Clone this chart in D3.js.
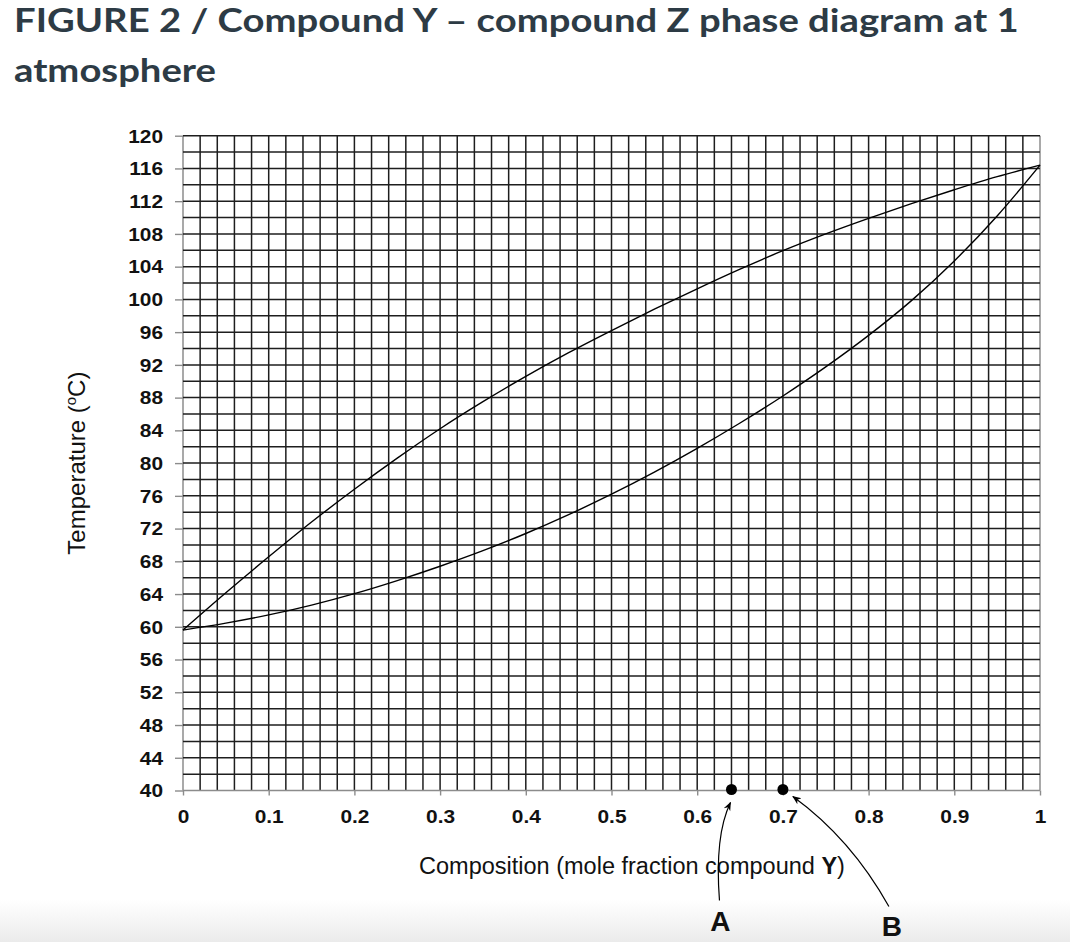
<!DOCTYPE html>
<html>
<head>
<meta charset="utf-8">
<script src="https://cdn.jsdelivr.net/npm/d3@7"></script>
<style>
  html, body { margin: 0; padding: 0; background: #fff; }
  svg { display: block; }
</style>
</head>
<body>
<svg id="chart" width="1070" height="942"></svg>
<script>
// composition (mole fraction of compound Y)
var composition = [0, 0.05, 0.1, 0.15, 0.2, 0.25, 0.3, 0.35, 0.4, 0.45, 0.5,
	0.55, 0.6, 0.65, 0.7, 0.75, 0.8, 0.85, 0.9, 0.95, 1]

// upper curve (vapour / dew line), degrees C
var vaporTemp = [59.6, 64.15, 68.55, 72.8, 76.8, 80.6, 84.2, 87.5, 90.6, 93.5, 96.2,
	98.8, 101.3, 103.7, 105.95, 108.0, 109.9, 111.7, 113.4, 115.0, 116.4]

// lower curve (liquid / bubble line), degrees C
var liquidTemp = [59.6, 60.45, 61.45, 62.65, 64.05, 65.65, 67.4, 69.3, 71.4, 73.7, 76.2,
	78.9, 81.8, 84.9, 88.2, 91.75, 95.6, 99.85, 104.7, 110.2, 116.4]

var tempTicks = [40, 44, 48, 52, 56, 60, 64, 68, 72, 76, 80, 84, 88, 92, 96, 100, 104, 108, 112, 116, 120]
var compTicks = [0, 0.1, 0.2, 0.3, 0.4, 0.5, 0.6, 0.7, 0.8, 0.9, 1]

// marked points on the axis
var markers = [
	{name: "A", x: 0.64, t: 40},
	{name: "B", x: 0.70, t: 40}
]

var svg = d3.select('#chart')
var width = +svg.attr('width')
var height = +svg.attr('height')
var font = '"Liberation Sans", Arial, sans-serif'
var stretch = 1.16 //the reference is a little wider than tall

var x = d3.scaleLinear().domain([0, 1]).range([183, 1040])
var y = d3.scaleLinear().domain([40, 120]).range([790.5, 135.7])

//Soft grey band at the bottom of the screenshot
var defs = svg.append('defs')
var grad = defs.append('linearGradient').attr('id', 'fade')
	.attr('x1', 0).attr('y1', 0).attr('x2', 0).attr('y2', 1)
grad.append('stop').attr('offset', '0%').attr('stop-color', '#ffffff')
grad.append('stop').attr('offset', '100%').attr('stop-color', '#ebebeb')
svg.append('rect').attr('x', 0).attr('y', 900).attr('width', width).attr('height', height - 900)
	.attr('fill', 'url(#fade)')

//Title (kept a touch below the top edge so nothing is clipped)
var title = svg.append('text')
	.attr('transform', 'translate(14,0) scale(1.195,1)')
	.attr('font-family', 'Lato, sans-serif')
	.attr('font-weight', 700)
	.attr('font-size', 32)
	.attr('fill', '#2d3b45')
title.append('tspan').attr('x', 0).attr('y', 32).text('FIGURE 2 / Compound Y \u2013 compound Z phase diagram at 1')
title.append('tspan').attr('x', 0).attr('y', 82).text('atmosphere')

//Grid: every 0.02 across, every 2 degrees up
var gridX = d3.range(0, 51).map(function(i) { return i / 50 })
var gridY = d3.range(40, 121, 2)
var grid = svg.append('g')
grid.selectAll('line.v').data(gridX).enter().append('line')
	.attr('x1', function(d) { return x(d) }).attr('x2', function(d) { return x(d) })
	.attr('y1', y(40)).attr('y2', y(120))
	.attr('stroke', function(d, i) { return (i === 0 || i === 50) ? '#8c8c8c' : '#1e1e1e' })
	.attr('stroke-width', 1.5)
grid.selectAll('line.h').data(gridY).enter().append('line')
	.attr('x1', x(0)).attr('x2', x(1))
	.attr('y1', function(d) { return y(d) }).attr('y2', function(d) { return y(d) })
	.attr('stroke', function(d) { return d === 40 ? '#8c8c8c' : '#1e1e1e' })
	.attr('stroke-width', 1.5)

//Axes
var yAxis = svg.append('g').attr('transform', 'translate(' + x(0) + ',0)')
	.call(d3.axisLeft(y).tickValues(tempTicks).tickSize(8))
var xAxis = svg.append('g').attr('transform', 'translate(0,' + y(40) + ')')
	.call(d3.axisBottom(x).tickValues(compTicks).tickSize(5)
		.tickFormat(function(d) { return String(d) }))
svg.selectAll('.domain').remove()
svg.selectAll('.tick line').attr('stroke', '#8c8c8c').attr('stroke-width', 1.4)
svg.selectAll('.tick text')
	.attr('font-family', font).attr('font-weight', 700).attr('font-size', 18).attr('fill', '#111')
yAxis.selectAll('.tick text')
	.attr('x', 0).attr('dy', '0.35em')
	.attr('transform', 'translate(-20,0) scale(' + stretch + ',1)')
xAxis.selectAll('.tick text')
	.attr('y', 0).attr('dy', 0)
	.attr('transform', 'translate(0,32) scale(' + stretch + ',1)')

//Axis titles
var xt = svg.append('text')
	.attr('x', 632).attr('y', 874)
	.attr('text-anchor', 'middle')
	.attr('font-family', font).attr('font-size', 23.5).attr('fill', '#111')
xt.append('tspan').text('Composition (mole fraction compound ')
xt.append('tspan').attr('font-weight', 700).text('Y')
xt.append('tspan').text(')')

var yt = svg.append('text')
	.attr('transform', 'translate(85,' + ((y(40) + y(120)) / 2) + ') rotate(-90)')
	.attr('text-anchor', 'middle')
	.attr('font-family', font).attr('font-size', 24).attr('fill', '#111')
yt.append('tspan').text('Temperature (')
yt.append('tspan').attr('font-size', 15).attr('dy', -9).text('o')
yt.append('tspan').attr('dy', 9).text('C)')

//Phase boundary curves
var line = d3.line()
	.x(function(d) { return x(d[0]) })
	.y(function(d) { return y(d[1]) })
	.curve(d3.curveCatmullRom.alpha(0.5))
var curves = [d3.zip(composition, vaporTemp), d3.zip(composition, liquidTemp)]
svg.selectAll('path.phase').data(curves).enter().append('path')
	.attr('class', 'phase')
	.attr('d', line)
	.attr('fill', 'none')
	.attr('stroke', '#000')
	.attr('stroke-width', 1.4)

//Markers A and B
svg.selectAll('circle.marker').data(markers).enter().append('circle')
	.attr('class', 'marker')
	.attr('cx', function(d) { return x(d.x) })
	.attr('cy', function(d) { return y(d.t) - 1 })
	.attr('r', 5.5)
	.attr('fill', '#000')

defs.append('marker').attr('id', 'head')
	.attr('viewBox', '0 0 10 10').attr('refX', 9).attr('refY', 5)
	.attr('markerWidth', 9).attr('markerHeight', 9).attr('markerUnits', 'userSpaceOnUse')
	.attr('orient', 'auto')
	.append('path').attr('d', 'M0,1 L10,5 L0,9 L3,5 Z').attr('fill', '#000')

//Curved pointers from the letters up to the dots
var ax = x(markers[0].x), bx = x(markers[1].x), base = y(40)
var pointers = [
	'M' + (ax - 12) + ',' + (base + 110) + ' Q' + (ax - 17) + ',' + (base + 45) + ' ' + (ax - 1) + ',' + (base + 12),
	'M' + (bx + 106) + ',' + (base + 116) + ' Q' + (bx + 68) + ',' + (base + 48) + ' ' + (bx + 10) + ',' + (base + 6)
]
svg.selectAll('path.pointer').data(pointers).enter().append('path')
	.attr('class', 'pointer')
	.attr('d', function(d) { return d })
	.attr('fill', 'none')
	.attr('stroke', '#000')
	.attr('stroke-width', 1.2)
	.attr('marker-end', 'url(#head)')

svg.append('text').attr('x', ax - 11).attr('y', 931)
	.attr('text-anchor', 'middle')
	.attr('font-family', font).attr('font-weight', 700).attr('font-size', 28).attr('fill', '#111')
	.text(markers[0].name)
svg.append('text').attr('x', bx + 109).attr('y', 936)
	.attr('text-anchor', 'middle')
	.attr('font-family', font).attr('font-weight', 700).attr('font-size', 28).attr('fill', '#111')
	.text(markers[1].name)
</script>
</body>
</html>
